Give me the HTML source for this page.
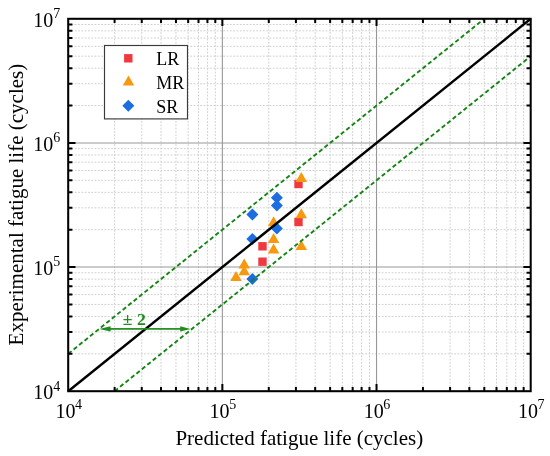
<!DOCTYPE html>
<html lang="en"><head><meta charset="utf-8"><title>Fatigue life</title>
<style>html,body{margin:0;padding:0;background:#fff}svg{display:block}</style></head>
<body>
<svg width="550" height="456" viewBox="0 0 550 456" font-family="'Liberation Serif', 'Times New Roman', serif" fill="#000">
<rect width="550" height="456" fill="#fff"/>
<path d="M114.61 18.8V391.2M68.2 353.83H530.7M141.76 18.8V391.2M68.2 331.97H530.7M161.02 18.8V391.2M68.2 316.46H530.7M175.96 18.8V391.2M68.2 304.43H530.7M188.16 18.8V391.2M68.2 294.61H530.7M198.49 18.8V391.2M68.2 286.30H530.7M207.43 18.8V391.2M68.2 279.10H530.7M215.31 18.8V391.2M68.2 272.75H530.7M268.78 18.8V391.2M68.2 229.70H530.7M295.92 18.8V391.2M68.2 207.84H530.7M315.18 18.8V391.2M68.2 192.33H530.7M330.12 18.8V391.2M68.2 180.30H530.7M342.33 18.8V391.2M68.2 170.47H530.7M352.65 18.8V391.2M68.2 162.16H530.7M361.59 18.8V391.2M68.2 154.96H530.7M369.48 18.8V391.2M68.2 148.61H530.7M422.94 18.8V391.2M68.2 105.57H530.7M450.09 18.8V391.2M68.2 83.71H530.7M469.35 18.8V391.2M68.2 68.20H530.7M484.29 18.8V391.2M68.2 56.17H530.7M496.50 18.8V391.2M68.2 46.34H530.7M506.82 18.8V391.2M68.2 38.03H530.7M515.76 18.8V391.2M68.2 30.83H530.7M523.65 18.8V391.2M68.2 24.48H530.7" stroke="#cfcfcf" stroke-width="1" stroke-dasharray="1.8 1.5" fill="none"/>
<path d="M222.37 18.8V391.2M68.2 267.07H530.7M376.53 18.8V391.2M68.2 142.93H530.7" stroke="#979797" stroke-width="1.1" fill="none"/>
<rect x="104.5" y="45.5" width="83" height="73.4" fill="#fff" stroke="#3a3a3a" stroke-width="1.15"/>
<g fill="#ef393f"><rect x="294.30" y="179.80" width="8.4" height="8.4"/><rect x="294.30" y="217.80" width="8.4" height="8.4"/><rect x="258.30" y="242.10" width="8.4" height="8.4"/><rect x="258.30" y="257.50" width="8.4" height="8.4"/><rect x="124.10" y="54.10" width="8.4" height="8.4"/></g>
<g fill="#f6990f"><path d="M301.30 172.00L307.05 182.00H295.55Z"/><path d="M301.30 208.20L307.05 218.20H295.55Z"/><path d="M273.60 216.20L279.35 226.20H267.85Z"/><path d="M273.60 232.90L279.35 242.90H267.85Z"/><path d="M273.60 243.50L279.35 253.50H267.85Z"/><path d="M301.30 240.00L307.05 250.00H295.55Z"/><path d="M244.20 258.60L249.95 268.60H238.45Z"/><path d="M244.20 265.20L249.95 275.20H238.45Z"/><path d="M236.00 271.10L241.75 281.10H230.25Z"/><path d="M128.50 75.50L134.25 85.50H122.75Z"/></g>
<g fill="#1b6de0"><path d="M276.90 191.70L282.90 197.70L276.90 203.70L270.90 197.70Z"/><path d="M276.90 199.40L282.90 205.40L276.90 211.40L270.90 205.40Z"/><path d="M252.40 208.50L258.40 214.50L252.40 220.50L246.40 214.50Z"/><path d="M276.90 222.40L282.90 228.40L276.90 234.40L270.90 228.40Z"/><path d="M252.40 233.00L258.40 239.00L252.40 245.00L246.40 239.00Z"/><path d="M252.40 272.90L258.40 278.90L252.40 284.90L246.40 278.90Z"/><path d="M128.30 99.80L134.30 105.80L128.30 111.80L122.30 105.80Z"/></g>
<path d="M68.2 353.83L484.29 18.8M114.61 391.2L530.7 56.17" stroke="#158415" stroke-width="1.9" stroke-dasharray="4.3 2.7" fill="none"/>
<path d="M68.2 391.2L530.7 18.8" stroke="#000" stroke-width="2.4" fill="none"/>
<g fill="#1e8c1e" stroke="none"><rect x="106" y="328.05" width="78" height="1.7"/><path d="M99.2 328.9L110.6 326.20V331.60Z"/><path d="M190.6 328.9L180.2 326.20V331.60Z"/></g>
<text x="122.8" y="325" font-size="17.7" font-weight="bold" fill="#1e8c1e">± 2</text>
<path d="M114.61 391.2v-4.2M114.61 18.8v4.2M68.2 353.83h4.2M530.7 353.83h-4.2M141.76 391.2v-4.2M141.76 18.8v4.2M68.2 331.97h4.2M530.7 331.97h-4.2M161.02 391.2v-4.2M161.02 18.8v4.2M68.2 316.46h4.2M530.7 316.46h-4.2M175.96 391.2v-4.2M175.96 18.8v4.2M68.2 304.43h4.2M530.7 304.43h-4.2M188.16 391.2v-4.2M188.16 18.8v4.2M68.2 294.61h4.2M530.7 294.61h-4.2M198.49 391.2v-4.2M198.49 18.8v4.2M68.2 286.30h4.2M530.7 286.30h-4.2M207.43 391.2v-4.2M207.43 18.8v4.2M68.2 279.10h4.2M530.7 279.10h-4.2M215.31 391.2v-4.2M215.31 18.8v4.2M68.2 272.75h4.2M530.7 272.75h-4.2M222.37 391.2v-7.3M222.37 18.8v7.3M68.2 267.07h7.3M530.7 267.07h-7.3M268.78 391.2v-4.2M268.78 18.8v4.2M68.2 229.70h4.2M530.7 229.70h-4.2M295.92 391.2v-4.2M295.92 18.8v4.2M68.2 207.84h4.2M530.7 207.84h-4.2M315.18 391.2v-4.2M315.18 18.8v4.2M68.2 192.33h4.2M530.7 192.33h-4.2M330.12 391.2v-4.2M330.12 18.8v4.2M68.2 180.30h4.2M530.7 180.30h-4.2M342.33 391.2v-4.2M342.33 18.8v4.2M68.2 170.47h4.2M530.7 170.47h-4.2M352.65 391.2v-4.2M352.65 18.8v4.2M68.2 162.16h4.2M530.7 162.16h-4.2M361.59 391.2v-4.2M361.59 18.8v4.2M68.2 154.96h4.2M530.7 154.96h-4.2M369.48 391.2v-4.2M369.48 18.8v4.2M68.2 148.61h4.2M530.7 148.61h-4.2M376.53 391.2v-7.3M376.53 18.8v7.3M68.2 142.93h7.3M530.7 142.93h-7.3M422.94 391.2v-4.2M422.94 18.8v4.2M68.2 105.57h4.2M530.7 105.57h-4.2M450.09 391.2v-4.2M450.09 18.8v4.2M68.2 83.71h4.2M530.7 83.71h-4.2M469.35 391.2v-4.2M469.35 18.8v4.2M68.2 68.20h4.2M530.7 68.20h-4.2M484.29 391.2v-4.2M484.29 18.8v4.2M68.2 56.17h4.2M530.7 56.17h-4.2M496.50 391.2v-4.2M496.50 18.8v4.2M68.2 46.34h4.2M530.7 46.34h-4.2M506.82 391.2v-4.2M506.82 18.8v4.2M68.2 38.03h4.2M530.7 38.03h-4.2M515.76 391.2v-4.2M515.76 18.8v4.2M68.2 30.83h4.2M530.7 30.83h-4.2M523.65 391.2v-4.2M523.65 18.8v4.2M68.2 24.48h4.2M530.7 24.48h-4.2" stroke="#000" stroke-width="2" fill="none"/>
<rect x="68.2" y="18.8" width="462.50" height="372.40" fill="none" stroke="#000" stroke-width="2.05"/>
<text x="55.40" y="418.2" font-size="20">10<tspan font-size="14" dx="-0.4" dy="-9">4</tspan></text>
<text x="33.20" y="399.20" font-size="20">10<tspan font-size="14" dy="-8.7">4</tspan></text>
<text x="209.57" y="418.2" font-size="20">10<tspan font-size="14" dx="-0.4" dy="-9">5</tspan></text>
<text x="33.20" y="275.07" font-size="20">10<tspan font-size="14" dy="-8.7">5</tspan></text>
<text x="363.73" y="418.2" font-size="20">10<tspan font-size="14" dx="-0.4" dy="-9">6</tspan></text>
<text x="33.20" y="150.93" font-size="20">10<tspan font-size="14" dy="-8.7">6</tspan></text>
<text x="517.90" y="418.2" font-size="20">10<tspan font-size="14" dx="-0.4" dy="-9">7</tspan></text>
<text x="33.20" y="26.80" font-size="20">10<tspan font-size="14" dy="-8.7">7</tspan></text>
<text x="156.2" y="64.6" font-size="18">LR</text><text x="156.2" y="88.9" font-size="18">MR</text><text x="156.2" y="112.6" font-size="18">SR</text>
<text x="175.4" y="444.5" font-size="21">Predicted fatigue life (cycles)</text>
<text transform="translate(23.4 345.4) rotate(-90)" font-size="21">Experimental fatigue life (cycles)</text>
</svg></body></html>
